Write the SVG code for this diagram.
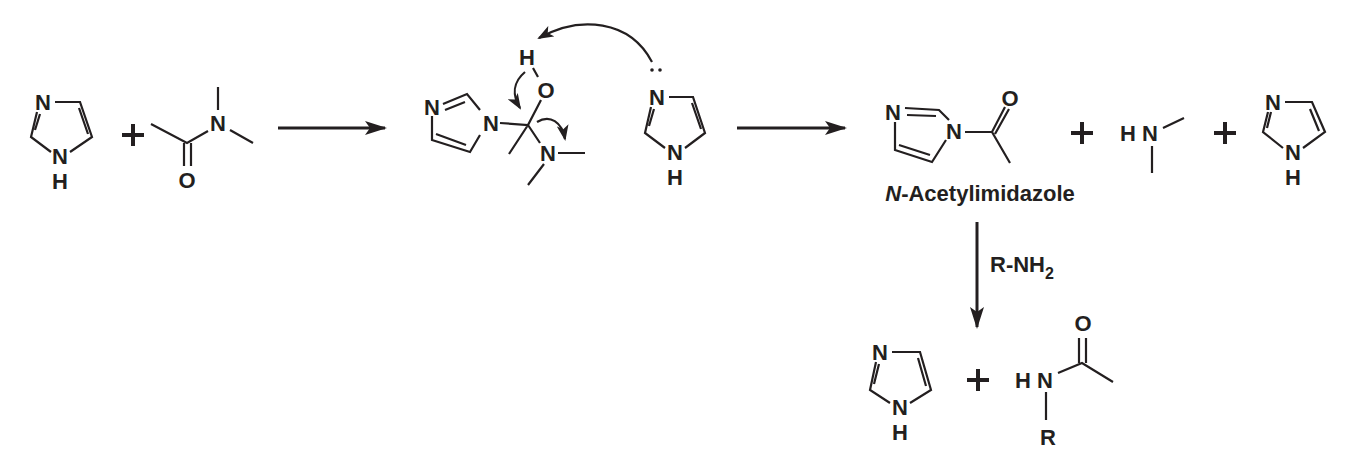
<svg xmlns="http://www.w3.org/2000/svg" width="1354" height="461" viewBox="0 0 1354 461">
<style>
.b{stroke:#231f20;stroke-width:2.2;fill:none;stroke-linecap:butt}
.a{stroke:#231f20;stroke-width:3;fill:none}
.t{font-family:"Liberation Sans",Arial,sans-serif;font-weight:bold;font-size:22px;fill:#231f20;text-anchor:middle}
.p{stroke:#231f20;stroke-width:4;fill:none}
</style>
<defs>
<marker id="ah" markerWidth="22" markerHeight="14" refX="20" refY="7" orient="auto" markerUnits="userSpaceOnUse"><path d="M0,0 L22,7 L0,14 L5,7 Z" fill="#231f20"/></marker>
<marker id="ch" markerWidth="16" markerHeight="12" refX="14" refY="6" orient="auto" markerUnits="userSpaceOnUse"><path d="M0,0 L16,6 L0,12 L4,6 Z" fill="#231f20"/></marker>
</defs>
<g id="imidazole1">
<path class="b" d="M55,102 L80,102 L92,137 L70,152 M51,152 L31,137 L37,112 M79,108 L88,134 M35,130 L40,114"/>
<text class="t" x="43" y="110">N</text><text class="t" x="60" y="164">N</text><text class="t" x="60" y="189">H</text>
</g>
<g id="plus1"><path class="p" d="M122,135 H144 M133,124 V146"/></g>
<g id="dma">
<path class="b" d="M151,124 L187,143 L208,131 M218,87 V110 M230,130 L253,143 M184,143 V166 M191,143 V166"/>
<text class="t" x="218" y="131">N</text><text class="t" x="187" y="188">O</text>
</g>
<g id="intermediate">
<path class="b" d="M443,104 L467,94 L480,110 M445,110 L465,102 M480,135 L470,152 L432,140 L432,116 M436,134 L466,145 M500,123 L528,125 L541,100 M528,125 L509,154 M528,125 L540,143 M558,153 L585,153 M544,164 L528,185 M533,68 L538,77"/>
<text class="t" x="491" y="131">N</text><text class="t" x="432" y="115">N</text><text class="t" x="546" y="98">O</text><text class="t" x="548" y="161">N</text><text class="t" x="527" y="65">H</text>
</g>
<g id="imidazole2">
<path class="b" d="M669,97 L693,97 L705,133 L685,148 M665,148 L645,133 L651,107 M692,103 L701,129 M649,126 L654,109"/>
<text class="t" x="657" y="105">N</text><text class="t" x="675" y="160">N</text><text class="t" x="675" y="185">H</text>
<circle cx="652" cy="70" r="1.8" fill="#231f20"/><circle cx="660" cy="70" r="1.8" fill="#231f20"/>
</g>
<g id="acetylimidazole">
<path class="b" d="M905,108 L939,110 L949,120 M907,115 L936,116 M946,140 L932,162 L895,150 L895,122 M899,145 L930,155 M965,132 L992,132 L1005,107 M995,134 L1009,109 M992,132 L1010,163"/>
<text class="t" x="893" y="120">N</text><text class="t" x="954" y="139">N</text><text class="t" x="1010" y="106">O</text>
<text class="t" x="980" y="201"><tspan font-style="italic">N</tspan>-Acetylimidazole</text>
</g>
<g id="plus2"><path class="p" d="M1071,133 H1093 M1082,122 V144"/></g>
<g id="dimethylamine">
<path class="b" d="M1163,128 L1184,118 M1152,146 V173"/>
<text class="t" x="1128" y="141">H</text><text class="t" x="1150" y="141">N</text>
</g>
<g id="plus3"><path class="p" d="M1214,133 H1236 M1225,122 V144"/></g>
<g id="imidazole3">
<path class="b" d="M1285,102 L1312,102 L1325,132 L1303,148 M1283,148 L1263,132 L1268,112 M1310,109 L1319,131 M1267,128 L1271,112"/>
<text class="t" x="1273" y="110">N</text><text class="t" x="1293" y="160">N</text><text class="t" x="1293" y="185">H</text>
</g>
<g id="imidazole4">
<path class="b" d="M892,352 L920,352 L931,390 L910,403 M890,403 L870,390 L876,362 M918,358 L926,386 M874,384 L879,364"/>
<text class="t" x="880" y="360">N</text><text class="t" x="900" y="415">N</text><text class="t" x="900" y="440">H</text>
</g>
<g id="plus4"><path class="p" d="M967,380 H989 M978,369 V391"/></g>
<g id="amide">
<path class="b" d="M1058,373 L1082,363 L1113,382 M1079,363 V338 M1086,363 V338 M1046,392 V420"/>
<text class="t" x="1023" y="388">H</text><text class="t" x="1045" y="388">N</text><text class="t" x="1083" y="331">O</text><text class="t" x="1048" y="445">R</text>
</g>
<g id="connectors">
<path class="a" d="M278,128 L385,128" marker-end="url(#ah)"/>
<path class="a" d="M737,128 L845,128" marker-end="url(#ah)"/>
<path class="a" d="M977,222 L977,327" marker-end="url(#ah)"/>
<path class="b" d="M652,62 C630,20 580,15 539,38" marker-end="url(#ch)"/>
<path class="b" d="M525,72 C513,82 512,95 520,108" marker-end="url(#ch)"/>
<path class="b" d="M537,122 C550,114 562,122 565,139" marker-end="url(#ch)"/>
<text class="t" x="990" y="272" style="text-anchor:start">R-NH<tspan font-size="16" dy="7">2</tspan></text>
</g>
</svg>
